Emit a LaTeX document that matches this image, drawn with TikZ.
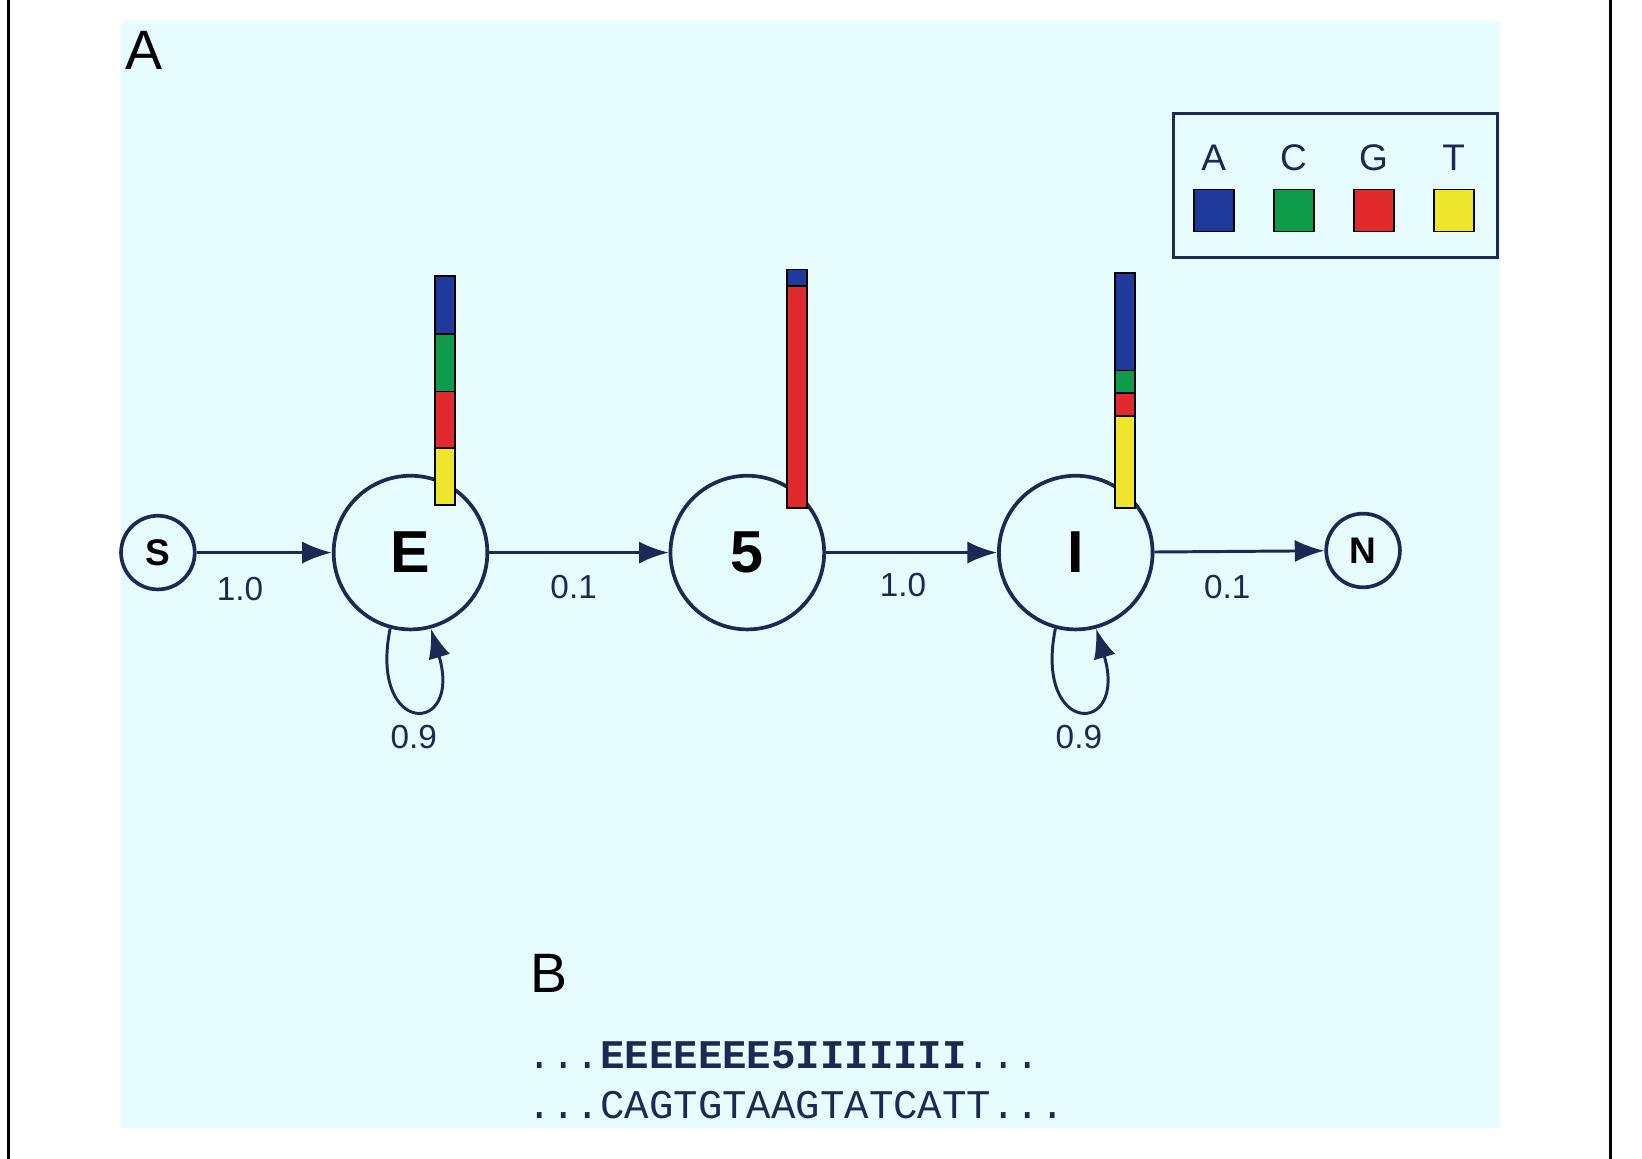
\documentclass[tikz,border=0pt]{standalone}
\usepackage{fontspec}
\setmainfont{Liberation Sans}
\newfontfamily\monof{Liberation Mono}
\usetikzlibrary{arrows.meta}
\definecolor{bgc}{HTML}{E6FCFF}
\definecolor{nA}{HTML}{1F3A9A}
\definecolor{nC}{HTML}{0E9B4A}
\definecolor{nG}{HTML}{E02A2E}
\definecolor{nT}{HTML}{EEE62A}
\definecolor{lc}{HTML}{1A2A55}
\tikzset{
 st/.style={circle,draw=lc,line width=1pt,inner sep=0pt},
 big/.style={st,minimum size=146*0.01cm,font=\fontsize{16}{16}\selectfont\bfseries},
 small/.style={st,minimum size=70*0.01cm,font=\fontsize{10}{10}\selectfont\bfseries},
 edge/.style={-{Latex[length=8pt,width=6pt]},line width=0.8pt,draw=lc},
 lab/.style={font=\fontsize{9}{9}\selectfont,text=lc},
 seg/.style={draw=black,line width=0.5pt}
}
\begin{document}
\begin{tikzpicture}[x=0.01cm,y=-0.01cm]
\useasboundingbox (0,0) rectangle (1560,1101);
\fill[white] (0,0) rectangle (1560,1101);
\draw[line width=1pt] (8,0) -- (8,1101) (1530,0) -- (1530,1101);
\fill[bgc] (115,20) rectangle (1425,1072);
\node[font=\fontsize{15}{15}\selectfont] (lA) at (137,48) {A};
% legend
\draw[lc,line width=0.8pt,fill=bgc] (1115,108) rectangle (1423,245);
\foreach \x/\l/\c in {1153/A/nA,1229/C/nC,1305/G/nG,1381/T/nT}{
 \node[font=\fontsize{10}{10}\selectfont,text=lc] at (\x,150) {\l};
 \filldraw[fill=\c,seg] (\x-19,180) rectangle (\x+19,220);
}
% nodes
\node[small] (S) at (150,525) {S};
\node[big] (E) at (390,525) {E};
\node[big] (F) at (710,525) {5};
\node[big] (I) at (1022,525) {I};
\node[small] (N) at (1295,523) {N};
% bars
\filldraw[fill=nA,seg] (413,262) rectangle (432,317);
\filldraw[fill=nC,seg] (413,317) rectangle (432,372);
\filldraw[fill=nG,seg] (413,372) rectangle (432,426);
\filldraw[fill=nT,seg] (413,426) rectangle (432,480);
\filldraw[fill=nA,seg] (748,256) rectangle (767,272);
\filldraw[fill=nG,seg] (748,272) rectangle (767,483);
\filldraw[fill=nA,seg] (1059,259) rectangle (1078,352);
\filldraw[fill=nC,seg] (1059,352) rectangle (1078,373);
\filldraw[fill=nG,seg] (1059,373) rectangle (1078,395);
\filldraw[fill=nT,seg] (1059,395) rectangle (1078,483);
% edges
\draw[edge] (S) -- (E);
\node[lab] (t1) at (228,560) {1.0};
\draw[edge] (E) -- (F);
\node[lab] (t2) at (545,558) {0.1};
\draw[edge] (F) -- (I);
\node[lab] (t3) at (858,556) {1.0};
\draw[edge] (I) -- (N);
\node[lab] (t4) at (1166,558) {0.1};
\draw[edge] (E.-105) .. controls (350,700) and (440,700) .. (E.-75);
\node[lab] (l1) at (393,700) {0.9};
\draw[edge] (I.-105) .. controls (982,700) and (1072,700) .. (I.-75);
\node[lab] (l2) at (1025,700) {0.9};
% B
\node[font=\fontsize{15}{15}\selectfont] (lB) at (522,925) {B};
\node[anchor=west,inner sep=0pt,font=\monof\fontsize{11}{11}\selectfont,text=lc] (s1) at (500,1003) {...\textbf{EEEEEEE5IIIIIII}...};
\node[anchor=west,inner sep=0pt,font=\monof\fontsize{11}{11}\selectfont,text=lc] (s2) at (500,1050) {...CAGTGTAAGTATCATT...};
\end{tikzpicture}
\end{document}
